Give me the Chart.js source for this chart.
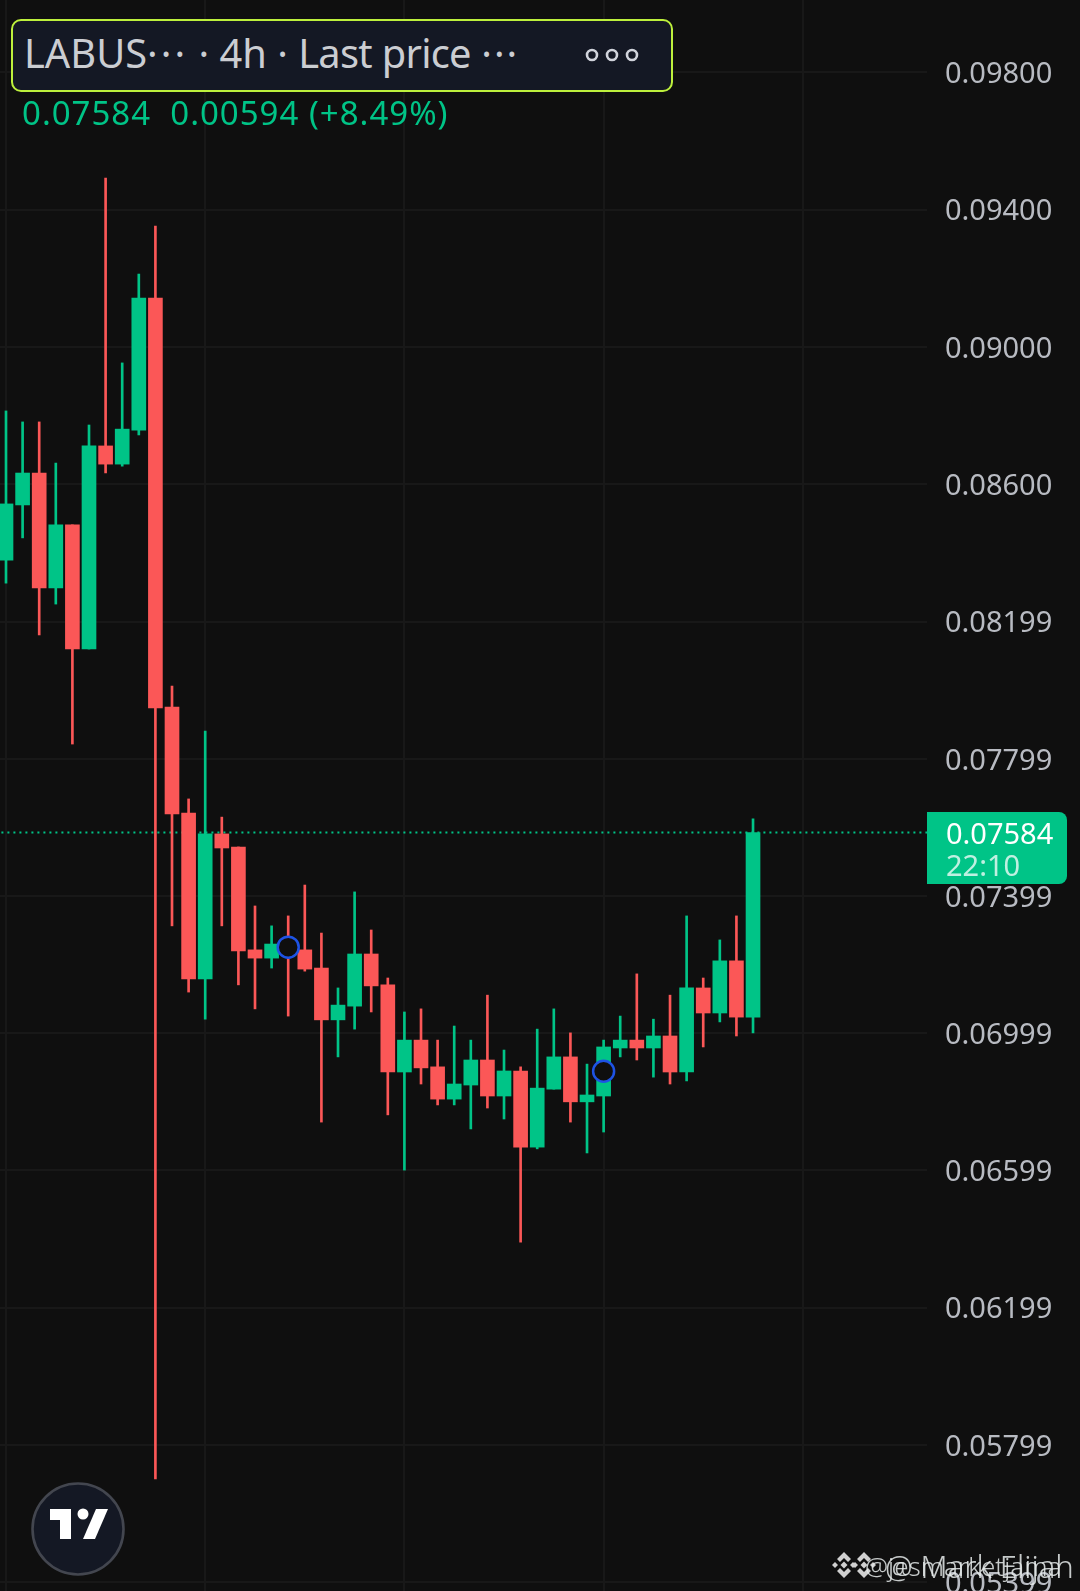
<!DOCTYPE html>
<html>
<head>
<meta charset="utf-8">
<title>LABUS 4h</title>
<script src="https://cdn.jsdelivr.net/npm/chart.js@4"></script>
<style>
  html, body { margin: 0; padding: 0; background: #0f0f0f; }
  #wrap { position: relative; width: 1080px; height: 1591px; overflow: hidden; font-family: "Noto Sans", sans-serif; }
  #wrap canvas { position: absolute; left: 0; top: 0; }
  .abs { position: absolute; white-space: pre; }
  #legend { left: 11px; top: 19px; width: 658px; height: 69px; border: 2px solid #bdf03c; border-radius: 10px; background: #141824; box-sizing: content-box; }
  #title { left: 24px; top: 28px; font-size: 39.8px; line-height: 50px; color: #cbcdd2; }
  #title .gap { letter-spacing: 3px; }
  #title .tail { letter-spacing: 2px; }
  #title .tight { letter-spacing: -0.7px; }
  #dots { left: 584px; top: 47px; }
  #ohlc { left: 22px; top: 91px; font-size: 33px; line-height: 44px; letter-spacing: 1px; color: #00c487; }
  #badge { left: 927px; top: 812px; width: 140px; height: 72px; background: #00c487; border-radius: 0 8px 8px 0; }
  #badgeprice { left: 946px; top: 812px; font-size: 29px; line-height: 42px; color: #fff; }
  #badgetime { left: 946px; top: 845px; font-size: 29px; line-height: 40px; color: rgba(255,255,255,.75); }
  #logo { left: 30px; top: 1482px; }
  #binance { left: 830px; top: 1551px; }
  .mark { color: rgba(230,235,235,.85); line-height: 30px; font-weight: 300; }
</style>
</head>
<body>
<div id="wrap">
  <canvas id="chart" width="1080" height="1591"></canvas>
  <div class="abs" id="legend"></div>
  <div class="abs" id="title">LABUS<span class="gap">···</span> · 4h · <span class="tight">Last price</span> <span class="tail">···</span></div>
  <svg class="abs" id="dots" width="56" height="16" viewBox="0 0 56 16">
    <circle cx="8" cy="8" r="5" fill="none" stroke="#d1d4dc" stroke-width="2.6"/>
    <circle cx="28" cy="8" r="5" fill="none" stroke="#d1d4dc" stroke-width="2.6"/>
    <circle cx="48" cy="8" r="5" fill="none" stroke="#d1d4dc" stroke-width="2.6"/>
  </svg>
  <div class="abs" id="ohlc">0.07584  0.00594 (+8.49%)</div>
  <div class="abs" id="badge"></div>
  <div class="abs" id="badgeprice">0.07584</div>
  <div class="abs" id="badgetime">22:10</div>
  <svg class="abs" id="logo" width="96" height="96" viewBox="0 0 96 96">
    <circle cx="48" cy="47" r="45.5" fill="#141824" stroke="#43464f" stroke-width="2.6"/>
    <path d="M20 27H41V57H30V38H20Z" fill="#fff"/>
    <circle cx="53" cy="32" r="5.5" fill="#fff"/>
    <path d="M66 27H78L65 57H53Z" fill="#fff"/>
  </svg>
  <svg class="abs" id="binance" width="60" height="28" viewBox="0 0 60 28">
    <g id="bn" fill="#d0d0d0">
      <path d="M14 1L21 8L18 11L14 7L10 11L7 8Z"/>
      <path d="M14 27L21 20L18 17L14 21L10 17L7 20Z"/>
      <path d="M14 10.5L17.5 14L14 17.5L10.5 14Z"/>
      <path d="M5 11L8 14L5 17L2 14Z"/>
      <path d="M23 11L26 14L23 17L20 14Z"/>
    </g>
    <use href="#bn" x="20"/>
  </svg>
  <div class="abs mark" style="left:865px; top:1551px; font-size:26px;">@jesmarketjama</div>
  <div class="abs mark" style="left:885px; top:1551px; font-size:31px;">@ Mark Elijah</div>
</div>
<script>
// 4h candles, oldest first
const opens = [0.08378, 0.08539, 0.08632, 0.08297, 0.08481, 0.08119, 0.08711, 0.08658, 0.08757, 0.09142,
  0.07950, 0.07641, 0.07157, 0.07580, 0.07542, 0.07242, 0.07218, 0.07259, 0.07242, 0.07189,
  0.07038, 0.07078, 0.07230, 0.07140, 0.06886, 0.06979, 0.06901, 0.06807, 0.06848, 0.06921,
  0.06816, 0.06889, 0.06667, 0.06836, 0.06930, 0.06799, 0.06816, 0.06956, 0.06979, 0.06956,
  0.06991, 0.06886, 0.07131, 0.07058, 0.07210, 0.07046];
const highs = [0.08813, 0.08781, 0.08781, 0.08661, 0.08481, 0.08772, 0.09492, 0.08953, 0.09212, 0.09352,
  0.08011, 0.07682, 0.07880, 0.07629, 0.07542, 0.07370, 0.07312, 0.07341, 0.07431, 0.07291,
  0.07131, 0.07411, 0.07300, 0.07160, 0.07061, 0.07070, 0.06979, 0.07020, 0.06979, 0.07110,
  0.06950, 0.06901, 0.07011, 0.07070, 0.07000, 0.06909, 0.06979, 0.07049, 0.07172, 0.07040,
  0.07110, 0.07341, 0.07160, 0.07271, 0.07341, 0.07624];
const lows = [0.08311, 0.08443, 0.08160, 0.08250, 0.07842, 0.08119, 0.08632, 0.08652, 0.08743, 0.05700,
  0.07312, 0.07119, 0.07040, 0.07312, 0.07140, 0.07070, 0.07189, 0.07049, 0.07180, 0.06740,
  0.06930, 0.07011, 0.07061, 0.06761, 0.06600, 0.06851, 0.06790, 0.06790, 0.06720, 0.06781,
  0.06749, 0.06390, 0.06662, 0.06836, 0.06740, 0.06650, 0.06711, 0.06930, 0.06921, 0.06871,
  0.06851, 0.06860, 0.06959, 0.07032, 0.06991, 0.07000];
const closes = [0.08542, 0.08632, 0.08297, 0.08481, 0.08119, 0.08711, 0.08658, 0.08760, 0.09142, 0.07947,
  0.07638, 0.07157, 0.07580, 0.07539, 0.07239, 0.07218, 0.07259, 0.07235, 0.07186, 0.07038,
  0.07081, 0.07230, 0.07137, 0.06886, 0.06979, 0.06898, 0.06807, 0.06851, 0.06921, 0.06816,
  0.06889, 0.06667, 0.06839, 0.06930, 0.06799, 0.06819, 0.06959, 0.06979, 0.06956, 0.06991,
  0.06886, 0.07131, 0.07058, 0.07210, 0.07046, 0.07584];

const tickValues = [0.098, 0.094, 0.09, 0.086, 0.08199, 0.07799, 0.07399, 0.06999, 0.06599, 0.06199, 0.05799, 0.05399];
const tickLabels = ["0.09800", "0.09400", "0.09000", "0.08600", "0.08199", "0.07799", "0.07399", "0.06999", "0.06599", "0.06199", "0.05799", "0.05399"];
const gridCandles = [0, 12, 24, 36, 48];
const lastPrice = 0.07584;
const markerCandles = [17, 36];
const markerPrices = [0.07250, 0.06888];

const GREEN = "#00c487";
const RED = "#fb5757";
const GRID = "#181818";

const colors = closes.map((c, i) => (c >= opens[i] ? GREEN : RED));

new Chart(document.getElementById("chart"), {
  data: {
    datasets: [
      {
        type: "scatter",
        order: 0,
        data: markerCandles.map((c, i) => ({ x: c, y: markerPrices[i] })),
        pointRadius: 10.5,
        pointBorderWidth: 2.5,
        pointBorderColor: "#1e53e5",
        pointBackgroundColor: "#0f0f0f",
      },
      {
        type: "bar",
        order: 1,
        data: opens.map((o, i) => ({ x: i, y: [o, closes[i]] })),
        backgroundColor: colors,
        barThickness: 14,
        grouped: false,
        borderWidth: 0,
      },
      {
        type: "bar",
        order: 2,
        data: highs.map((h, i) => ({ x: i, y: [lows[i], h] })),
        backgroundColor: colors,
        barThickness: 2,
        grouped: false,
        borderWidth: 0,
      },
      {
        type: "line",
        order: 3,
        data: [{ x: -1, y: lastPrice }, { x: 56, y: lastPrice }],
        borderColor: GREEN,
        borderWidth: 2,
        borderDash: [2, 4],
        pointRadius: 0,
      },
    ],
  },
  options: {
    responsive: false,
    devicePixelRatio: 1,
    animation: false,
    layout: { padding: 0, autoPadding: false },
    plugins: { legend: { display: false }, tooltip: { enabled: false } },
    scales: {
      x: {
        type: "linear",
        offset: false,
        min: -0.3614,
        max: 55.48,
        grid: { color: GRID, lineWidth: 2, drawTicks: false, offset: false },
        border: { display: false },
        ticks: { display: false },
        afterBuildTicks: (axis) => { axis.ticks = gridCandles.map((v) => ({ value: v })); },
        afterFit: (axis) => { axis.height = 0; },
      },
      y: {
        position: "right",
        min: 0.053731,
        max: 0.100109,
        grid: { color: GRID, lineWidth: 2, drawTicks: false },
        border: { display: false },
        ticks: {
          color: "#b8bbc2",
          font: { family: "Noto Sans", size: 29 },
          padding: 18,
          labelOffset: 2.5,
          autoSkip: false,
          crossAlign: "near",
          callback: (v, i) => tickLabels[i],
        },
        afterBuildTicks: (axis) => { axis.ticks = tickValues.map((v) => ({ value: v })); },
        afterFit: (axis) => {
          axis.width = 153;
          axis.paddingTop = 0;
          axis.paddingBottom = 0;
        },
      },
    },
  },
});
</script>
</body>
</html>
